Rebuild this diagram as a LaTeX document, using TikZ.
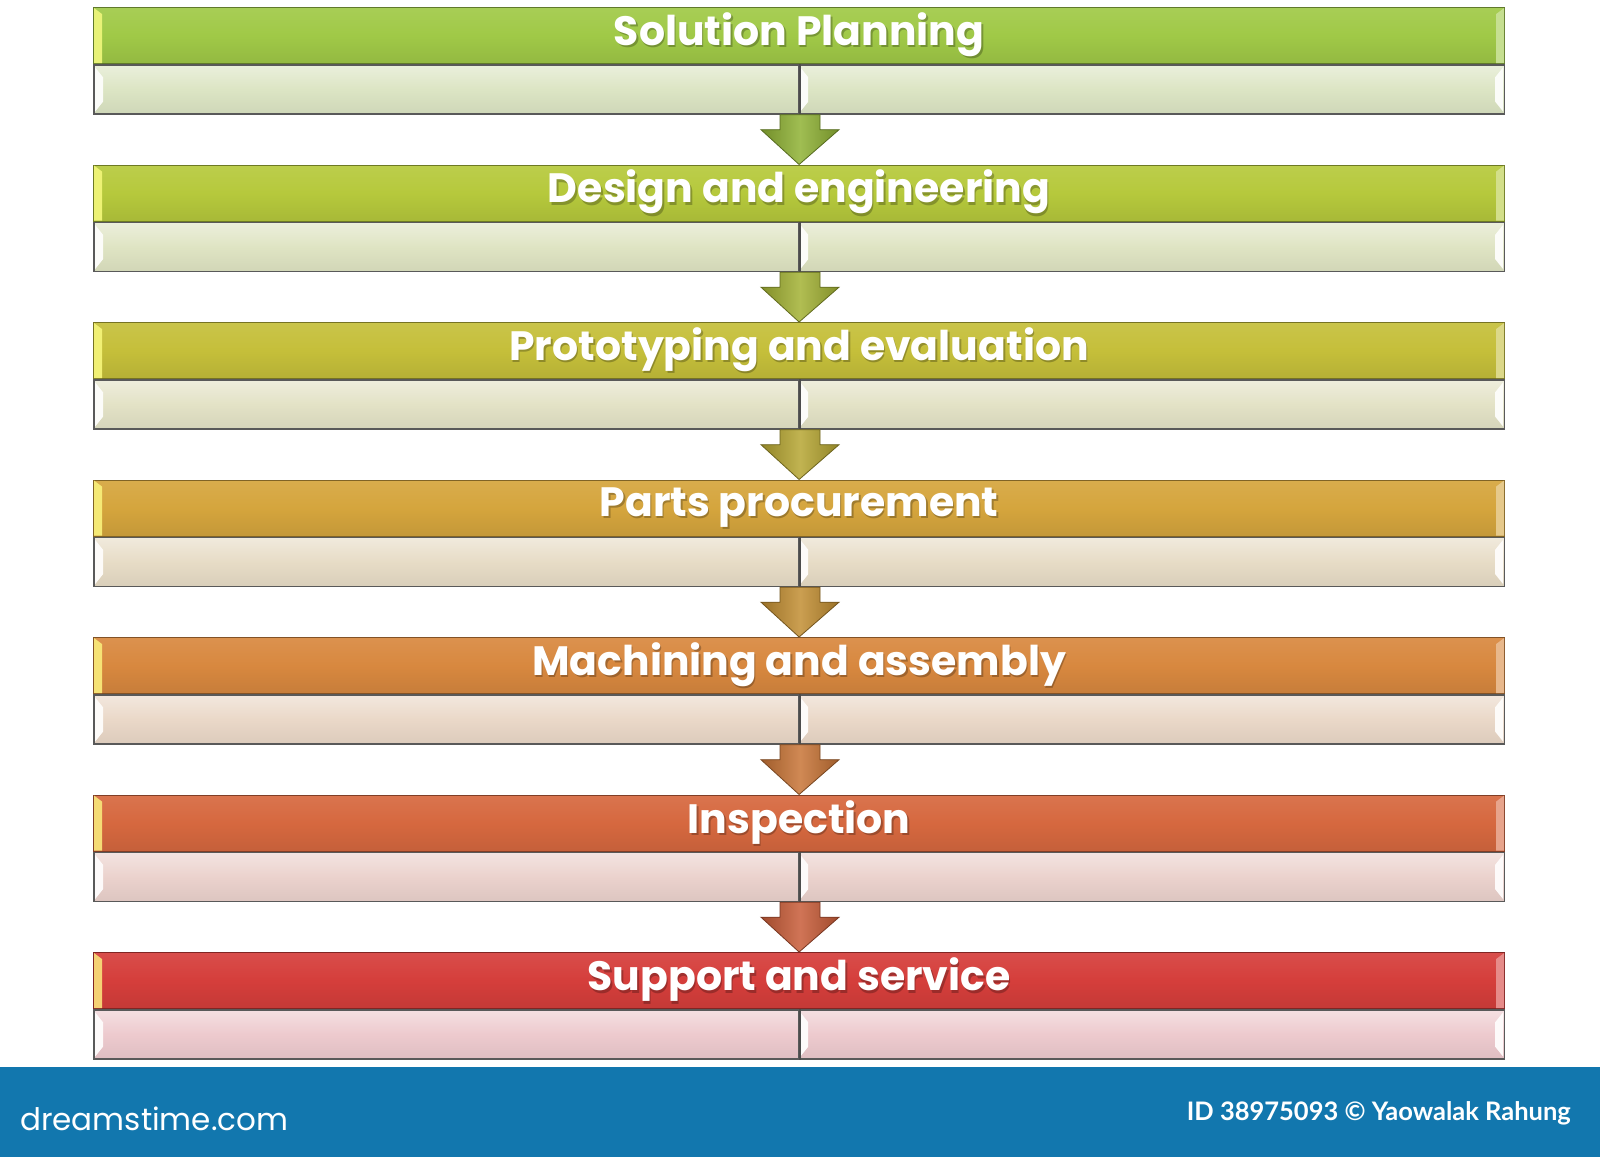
\documentclass[tikz,border=0pt]{standalone}
\usepackage{fontspec}
\setmainfont{Poppins}
\newfontfamily\bannerfont{Lato}
\newfontfamily\logofont{Poppins}
\usetikzlibrary{calc}
\definecolor{hA}{HTML}{A0C947}\definecolor{sA}{HTML}{DCE5C4}\definecolor{aA}{HTML}{8FB234}
\definecolor{hB}{HTML}{B6C93C}\definecolor{sB}{HTML}{DFE4C3}\definecolor{aB}{HTML}{A3B234}
\definecolor{hC}{HTML}{C5BF3A}\definecolor{sC}{HTML}{E3E2C6}\definecolor{aC}{HTML}{B6A632}
\definecolor{hD}{HTML}{D5A53D}\definecolor{sD}{HTML}{E7DCC6}\definecolor{aD}{HTML}{C28E32}
\definecolor{hE}{HTML}{D8883F}\definecolor{sE}{HTML}{EAD8C8}\definecolor{aE}{HTML}{C87436}
\definecolor{hF}{HTML}{D6683F}\definecolor{sF}{HTML}{EBD2CD}\definecolor{aF}{HTML}{C85C38}
\definecolor{hG}{HTML}{D53E3B}\definecolor{sG}{HTML}{EDCACE}
\definecolor{banner}{HTML}{1277AE}
\tikzset{
  hdr/.style={draw=#1!60!black, line width=1.2pt, top color=#1!92!white, bottom color=#1!92!black, middle color=#1,
    minimum width=1411pt, minimum height=56pt, anchor=north west, inner sep=0pt},
  sub/.style={draw=black!65, line width=1.5pt, top color=#1!60!white, bottom color=#1!94!black, middle color=#1,
    minimum width=705.5pt, minimum height=49pt, inner sep=0pt},
  htext/.style={text=white, font=\bfseries\fontsize{41}{43}\selectfont, inner sep=0pt},
  hshadow/.style={text=black, opacity=0.25, font=\bfseries\fontsize{41}{43}\selectfont, inner sep=0pt},
  flowarrow/.style={draw=#1!60!black, line width=0.8pt, left color=#1!80!black, right color=#1!80!black, middle color=#1!85!white},
}
\begin{document}
\begin{tikzpicture}[x=1pt,y=-1pt]
\useasboundingbox (0,0) rectangle (1600,1157);
\fill[white] (0,0) rectangle (1600,1157);
\foreach \i/\hc/\sc/\name in {1/hA/sA/Solution Planning, 2/hB/sB/Design and engineering, 3/hC/sC/Prototyping and evaluation, 4/hD/sD/Parts procurement, 5/hE/sE/Machining and assembly, 6/hF/sF/Inspection, 7/hG/sG/Support and service}{
  \pgfmathsetmacro{\yy}{7+(\i-1)*157.5}
  \node[hdr=\hc] (h\i) at (93,\yy) {};
  \fill[\hc!40!yellow!60!white] ($(h\i.north west)+(1,1)$) -- ++(8,6) -- ($(h\i.south west)+(9,-1)$) -- ($(h\i.south west)+(1,-1)$) -- cycle;
  \fill[\hc!60!white] ($(h\i.north east)+(-1,1)$) -- ++(-8,6) -- ($(h\i.south east)+(-9,-1)$) -- ($(h\i.south east)+(-1,-1)$) -- cycle;
  \node[sub=\sc, anchor=north west] (l\i) at (h\i.south west) {};
  \node[sub=\sc, anchor=north east] (r\i) at (h\i.south east) {};
  \fill[white!90!\sc] ($(l\i.north west)+(2,3)$) -- ++(8,10) -- ($(l\i.south west)+(10,-13)$) -- ($(l\i.south west)+(2,-3)$) -- cycle;
  \fill[white!90!\sc] ($(r\i.north west)+(2,3)$) -- ++(8,10) -- ($(r\i.south west)+(10,-13)$) -- ($(r\i.south west)+(2,-3)$) -- cycle;
  \fill[white!90!\sc] ($(r\i.north east)+(-2,3)$) -- ++(-8,10) -- ($(r\i.south east)+(-10,-13)$) -- ($(r\i.south east)+(-2,-3)$) -- cycle;
  \draw[black!70, line width=1.5pt] (l\i.north east) -- (l\i.south east);
  \node[hshadow] at ($(h\i.center)+(1.5,1.5)$) {\name};
  \node[htext] (t\i) at ($(h\i.center)+(0,-1)$) {\name};
}
\foreach \i/\j/\ac in {1/2/aA, 2/3/aB, 3/4/aC, 4/5/aD, 5/6/aE, 6/7/aF}{
  \path[flowarrow=\ac] ($(l\i.south east)+(-20,0)$) -- ($(l\i.south east)+(20,0)$) -- ($(l\i.south east)+(20,15)$)
    -- ($(l\i.south east)+(39,15)$) -- (h\j.north) -- ($(l\i.south east)+(-39,15)$) -- ($(l\i.south east)+(-20,15)$) -- cycle;
}
\fill[banner] (0,1067) rectangle (1600,1157);
\node[anchor=base west, text=white, inner sep=0pt, font=\logofont\fontsize{31}{33}\selectfont] (logo) at (20,1130) {dreamstime.com};
\node[anchor=base east, text=white, inner sep=0pt, font=\bannerfont\bfseries\fontsize{25.5}{27}\selectfont] (credit) at (1571,1120) {ID 38975093 © Yaowalak Rahung};
\end{tikzpicture}
\end{document}
